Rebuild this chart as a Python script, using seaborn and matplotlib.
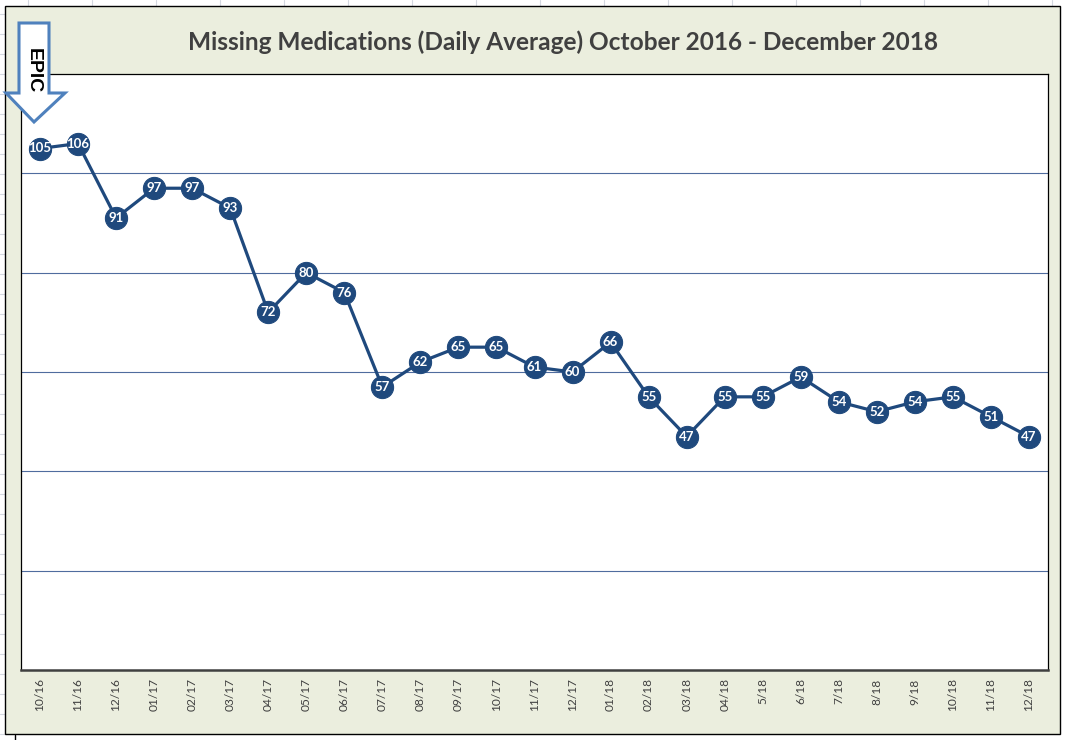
import seaborn as sns
import pandas as pd
import matplotlib.pyplot as plt
from matplotlib.patches import Rectangle, Polygon
from matplotlib.lines import Line2D

# data
months = ['10/16', '11/16', '12/16', '01/17', '02/17', '03/17', '04/17', '05/17', '06/17',
          '07/17', '08/17', '09/17', '10/17', '11/17', '12/17', '01/18', '02/18', '03/18',
          '04/18', '5/18', '6/18', '7/18', '8/18', '9/18', '10/18', '11/18', '12/18']
missing = [105, 106, 91, 97, 97, 93, 72, 80, 76, 57, 62, 65, 65, 61, 60, 66, 55, 47,
           55, 55, 59, 54, 52, 54, 55, 51, 47]
grid_values = [20, 40, 60, 80, 100]

sns.set_style('white')
plt.rcParams['font.family'] = ['Lato', 'DejaVu Sans']

W, H = 1066, 740
fig = plt.figure(figsize=(W / 100, H / 100), dpi=100, facecolor='white')


def fx(px):
    return px / W


def fy(py):
    return 1 - py / H


# spreadsheet cell lines behind the chart
for yy in range(14, H, 20):
    fig.add_artist(Line2D([0, fx(6)], [fy(yy), fy(yy)], color='#D4D8E0', lw=0.8, zorder=-3))
for xx in range(28, W, 64):
    fig.add_artist(Line2D([fx(xx), fx(xx)], [1, fy(6)], color='#D4D8E0', lw=0.8, zorder=-3))

# chart area
fig.add_artist(Rectangle((fx(5), fy(734)), fx(1060) - fx(5), fy(6) - fy(734),
                         facecolor='#EBEEDE', edgecolor='black', lw=1, zorder=-2))
fig.add_artist(Line2D([fx(15), fx(15)], [fy(735), 0], color='black', lw=1, zorder=-2))

ax = fig.add_axes([fx(21), fy(670), fx(1048) - fx(21), fy(74) - fy(670)])
ax.set_facecolor('white')

df = pd.DataFrame({'pos': range(len(months)), 'month': months, 'value': missing})

for g in grid_values:
    ax.axhline(g, color='#4F6C9E', lw=0.8, zorder=1)

sns.lineplot(data=df, x='pos', y='value', ax=ax, color='#1F497D', lw=2.3,
             marker='o', markersize=16, markeredgecolor='#1F497D', zorder=3)

for i, v in enumerate(df['value']):
    ax.text(i, v, str(v), color='white', fontsize=9.5, fontweight='bold',
            ha='center', va='center', zorder=4)

ax.set_xlim(-0.5, len(months) - 0.5)
ax.set_ylim(0, 120)
ax.set_yticks([])
ax.set_xticks(range(len(months)))
ax.set_xticklabels(months, rotation=90, fontsize=8.6, color='#404040')
ax.tick_params(axis='x', length=0, pad=6)
ax.set_xlabel('')
ax.set_ylabel('')
for side in ['top', 'left', 'right']:
    ax.spines[side].set_color('black')
    ax.spines[side].set_linewidth(0.9)
ax.spines['bottom'].set_color('#404040')
ax.spines['bottom'].set_linewidth(1.8)

fig.text(fx(563), fy(42), 'Missing Medications (Daily Average) October 2016 - December 2018',
         ha='center', va='center', fontsize=17.6, fontweight='bold', color='#404040')

# EPIC arrow
arrow_px = [(19, 23), (49, 23), (49, 93), (65, 93), (34, 122), (6, 93), (19, 93)]
fig.add_artist(Polygon([(fx(a), fy(b)) for a, b in arrow_px], closed=True,
                       facecolor='white', edgecolor='#4F81BD', lw=2.2, zorder=10))
fig.text(fx(33), fy(71), 'EPIC', rotation=-90, ha='center', va='center',
         fontsize=14, fontweight='bold', color='black', family='Liberation Sans', zorder=11)

fig.savefig('out.png', dpi=100, facecolor='white')
